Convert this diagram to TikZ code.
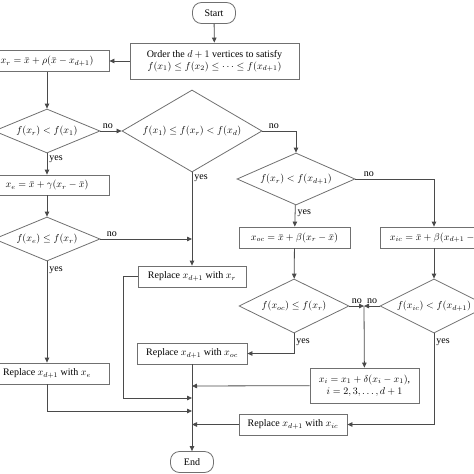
\documentclass[tikz,border=0pt]{standalone}
\usepackage{fontspec}
\setmainfont{Liberation Serif}
\usepackage{tikz}
\usetikzlibrary{shapes.geometric, arrows.meta, positioning, calc}
\definecolor{grisBorde}{HTML}{707070}
\definecolor{grisLinea}{HTML}{4A4A4A}

\begin{document}
\begin{tikzpicture}[
        x=1pt, y=-1pt,
        font=\fontsize{10}{12}\selectfont,
        term/.style={draw=grisBorde, line width=0.8pt, rounded corners=9pt,
            minimum width=43pt, minimum height=21pt, inner sep=1pt},
        box/.style={draw=grisBorde, line width=0.8pt, align=center,
            minimum height=21pt, inner sep=2pt},
        decision/.style={diamond, draw=grisBorde, line width=0.8pt, aspect=2,
            inner sep=0pt},
        line/.style={draw=grisLinea, line width=0.8pt},
        flecha/.style={line, -{Triangle[length=5pt,width=4.5pt]}},
        lbl/.style={inner sep=2pt, font=\fontsize{10}{12}\selectfont}
    ]
        \useasboundingbox (0,0) rectangle (474,474);
        \clip (0,0) rectangle (474,474);

        % nodes
        \node[term] (start) at (214,13) {Start};
        \node[box, minimum width=169pt, minimum height=36pt] (order) at (214.5,61)
            {Order the $d+1$ vertices to satisfy\\ $f(x_1)\le f(x_2)\le\cdots\le f(x_{d+1})$};
        \node[box, minimum width=124pt] (refl) at (47,61) {$x_r=\bar{x}+\rho(\bar{x}-x_{d+1})$};
        \node[decision, minimum width=106pt, minimum height=44pt] (dr1) at (47,131) {$f(x_r)<f(x_1)$};
        \node[decision, minimum width=140pt, minimum height=82pt] (drd) at (192,131) {$f(x_1)\le f(x_r)<f(x_d)$};
        \node[box, minimum width=124pt, minimum height=20pt] (expa) at (47,185) {$x_e=\bar{x}+\gamma(x_r-\bar{x})$};
        \node[decision, minimum width=106pt, minimum height=44pt] (der) at (47,239) {$f(x_e)\le f(x_r)$};
        \node[box, minimum width=108pt] (repr) at (192,276.5) {Replace $x_{d+1}$ with $x_r$};
        \node[decision, minimum width=118pt, minimum height=52pt] (drn) at (296,179) {$f(x_r)<f(x_{d+1})$};
        \node[box, minimum width=111pt] (outc) at (294.5,237.5) {$x_{oc}=\bar{x}+\beta(x_r-\bar{x})$};
        \node[box, minimum width=116pt] (inc) at (438,237.5) {$x_{ic}=\bar{x}+\beta(x_{d+1}-\bar{x})$};
        \node[decision, minimum width=110pt, minimum height=54pt] (doc) at (294,306) {$f(x_{oc})\le f(x_r)$};
        \node[decision, minimum width=108pt, minimum height=54pt] (dic) at (434,306) {$f(x_{ic})<f(x_{d+1})$};
        \coordinate (junta) at (364,306);
        \node[box, minimum width=109pt, minimum height=35pt] (shrink) at (364.5,385.5)
            {$x_i=x_1+\delta(x_i-x_1)$,\\ $i=2,3,\ldots,d+1$};
        \node[box, minimum width=110pt] (repoc) at (192,353.5) {Replace $x_{d+1}$ with $x_{oc}$};
        \node[box, minimum width=124pt] (repe) at (47,373.5) {Replace $x_{d+1}$ with $x_e$};
        \node[box, minimum width=108pt] (repic) at (293,424.5) {Replace $x_{d+1}$ with $x_{ic}$};
        \node[term] (end) at (192,462) {End};

        \coordinate (m1) at (192,386);
        \coordinate (m2) at (192,398);
        \coordinate (m3) at (192,411);
        \coordinate (m4) at (192,424.5);
        \coordinate (m0) at (192,239);

        % connectors
        \draw[flecha] (start) -- (order);
        \draw[flecha] (order) -- (refl);
        \draw[flecha] (refl) -- (dr1);
        \draw[flecha] (dr1) -- node[lbl, above right, at start]{no} (drd);
        \draw[flecha] (dr1) -- node[lbl, below right, at start]{yes} (expa);
        \draw[flecha] (expa) -- (der);
        \draw[flecha] (der) -- node[lbl, above right, at start, xshift=4pt]{no} (m0);
        \draw[flecha] (drd) -- node[lbl, below right, at start]{yes} (repr);
        \draw[flecha] (drd.east) -| node[lbl, above right, at start, xshift=4pt]{no} (drn.north);
        \draw[flecha] (drn) -- node[lbl, below right, at start, yshift=-2pt]{yes} (outc);
        \draw[flecha] (drn.east) -| node[lbl, above right, at start, xshift=6pt]{no} (inc.north -| dic);
        \draw[flecha] (outc) -- (doc);
        \draw[flecha] (inc.south -| dic) -- (dic);
        \draw[flecha] (doc.east) -- node[lbl, above right, at start]{no} (junta);
        \draw[flecha] (dic.west) -- node[lbl, above left, at start]{no} (junta);
        \draw[flecha] (junta) -- (shrink);
        \draw[flecha] (doc.south) |- node[lbl, below right, at start, yshift=-3pt]{yes} (repoc.east);
        \draw[flecha] (dic.south) |- node[lbl, below right, at start, yshift=-3pt]{yes} (repic.east);
        \draw[flecha] (der) -- node[lbl, below right, at start, yshift=-3pt]{yes} (repe);
        \draw[flecha] (repoc) -- (end);
        \draw[flecha] (shrink) -- (m1);
        \draw[flecha] (repr.west) -- ++(-14,0) |- (m2);
        \draw[flecha] (repe) |- (m3);
        \draw[flecha] (repic) -- (m4);
    \end{tikzpicture}
\end{document}
